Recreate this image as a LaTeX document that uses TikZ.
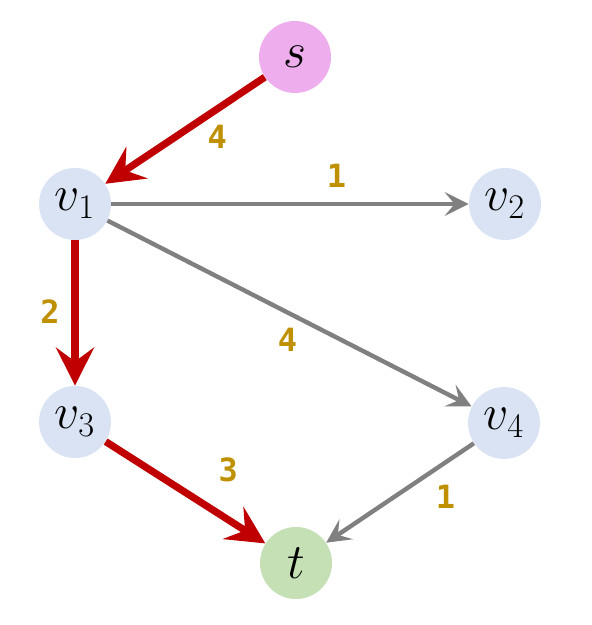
\documentclass[tikz,border=0pt]{standalone}
\usepackage{fontspec}
\usepackage{tikz}
\usetikzlibrary{arrows.meta}
\newfontfamily\lblfont{DejaVu Sans Mono}
\definecolor{srcfill}{HTML}{EEAEEE}
\definecolor{vfill}{HTML}{DAE3F3}
\definecolor{sinkfill}{HTML}{C5E0B4}
\definecolor{pathred}{HTML}{C00000}
\definecolor{edgegray}{HTML}{808080}
\definecolor{wgold}{HTML}{BF9000}
\tikzset{
  vert/.style={circle,fill=vfill,draw=none,minimum size=36pt,inner sep=0pt,
    font=\fontsize{23}{27}\selectfont},
  src/.style={vert,fill=srcfill},
  sink/.style={vert,fill=sinkfill},
  eplain/.style={-{Stealth[length=12pt,width=12pt,inset=5pt]},line width=2.2pt,draw=edgegray},
  epath/.style={-{Stealth[length=19pt,width=19pt,inset=7pt]},line width=3.6pt,draw=pathred},
  wlab/.style={font=\lblfont\bfseries\fontsize{16}{18}\selectfont,text=wgold,inner sep=0pt},
}

\begin{document}
\begin{tikzpicture}[x=0.5pt,y=-0.5pt]
  \useasboundingbox (0,0) rectangle (592,625);
  \node[src]  (s)  at (295,57)  {$s$};
  \node[vert] (v1) at (75,204)  {$v_1$};
  \node[vert] (v2) at (505,204) {$v_2$};
  \node[vert] (v3) at (75,422)  {$v_3$};
  \node[vert] (v4) at (504,423) {$v_4$};
  \node[sink] (t)  at (296,563) {$t$};
  % shortest path in red
  \draw[epath] (s)  -- node[wlab,pos=.38,shift={(13,19)}] {4} (v1);
  \draw[epath] (v1) -- node[wlab,pos=.49,shift={(-25,0)}] {2} (v3);
  \draw[epath] (v3) -- node[wlab,pos=.63,shift={(22,-36)}] {3} (t);
  % the other edges
  \draw[eplain] (v1) -- node[wlab,pos=.63,shift={(0,-28)}] {1} (v2);
  \draw[eplain] (v1) -- node[wlab,pos=.525,shift={(-11,22)}] {4} (v4);
  \draw[eplain] (v4) -- node[wlab,pos=.30,shift={(16,24)}] {1} (t);
\end{tikzpicture}
\end{document}
